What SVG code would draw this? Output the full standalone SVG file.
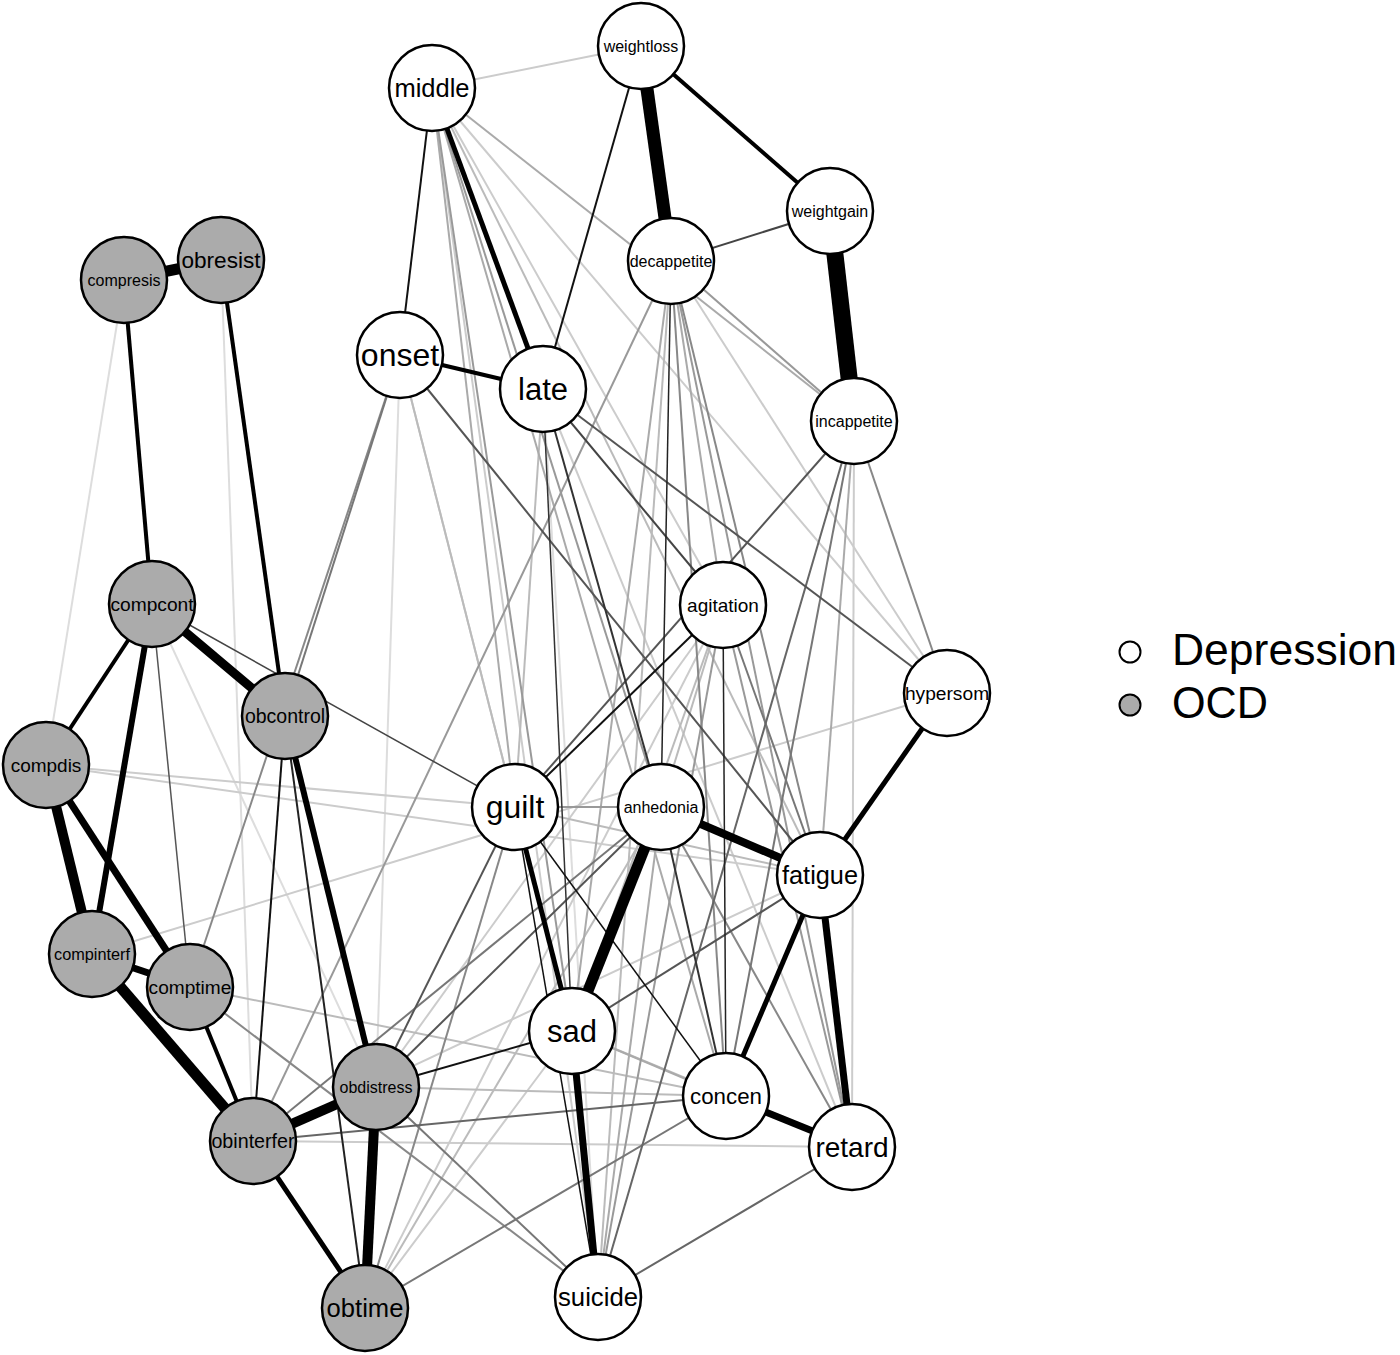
<svg xmlns="http://www.w3.org/2000/svg" width="1400" height="1355" viewBox="0 0 1400 1355">
<style>
#edges line{stroke-linecap:butt}
.c0{stroke:#000}.c1{stroke:#111}.c2{stroke:#222}.c3{stroke:#333}.c4{stroke:#444}.c5{stroke:#555}.c6{stroke:#666}.c7{stroke:#777}.c8{stroke:#888}.c9{stroke:#999}.ca{stroke:#aaa}.cb{stroke:#bbb}.cc{stroke:#ccc}.cd{stroke:#ddd}
.node circle{stroke:#000;stroke-width:2.5}
.dep circle{fill:#fff}.ocd circle{fill:#ababab}
text{font-family:"Liberation Sans",Arial,sans-serif;text-anchor:middle;fill:#000}
.leg{text-anchor:start}
</style>
<rect width="1400" height="1355" fill="#fff"/>
<g id="edges" stroke-width="2">
<line class="cd" x1="124" y1="280" x2="46" y2="765"/>
<line class="cd" x1="221" y1="260" x2="253" y2="1141"/>
<line class="cd" x1="400" y1="355" x2="376" y2="1087"/>
<line class="cd" x1="543" y1="389" x2="598" y2="1297"/>
<line class="cd" x1="152" y1="604" x2="376" y2="1087"/>
<line class="cc" x1="432" y1="88" x2="641" y2="46"/>
<line class="cc" x1="432" y1="88" x2="947" y2="693"/>
<line class="cc" x1="432" y1="88" x2="598" y2="1297"/>
<line class="cc" x1="432" y1="88" x2="723" y2="605"/>
<line class="cc" x1="400" y1="355" x2="572" y2="1031"/>
<line class="cc" x1="543" y1="389" x2="852" y2="1147"/>
<line class="cc" x1="671" y1="261" x2="947" y2="693"/>
<line class="cc" x1="854" y1="421" x2="852" y2="1147"/>
<line class="cc" x1="723" y1="605" x2="376" y2="1087"/>
<line class="cc" x1="947" y1="693" x2="92" y2="954"/>
<line class="cc" x1="46" y1="765" x2="515" y2="807"/>
<line class="cc" x1="46" y1="765" x2="820" y2="875"/>
<line class="cc" x1="253" y1="1141" x2="852" y2="1147"/>
<line class="cc" x1="365" y1="1308" x2="572" y2="1031"/>
<line class="cc" x1="365" y1="1308" x2="723" y2="605"/>
<line class="cc" x1="820" y1="875" x2="253" y2="1141"/>
<line class="cb" x1="432" y1="88" x2="820" y2="875"/>
<line class="cb" x1="400" y1="355" x2="515" y2="807"/>
<line class="cb" x1="543" y1="389" x2="515" y2="807"/>
<line class="cb" x1="671" y1="261" x2="598" y2="1297"/>
<line class="cb" x1="723" y1="605" x2="661" y2="807"/>
<line class="cb" x1="723" y1="605" x2="572" y2="1031"/>
<line class="cb" x1="515" y1="807" x2="820" y2="875"/>
<line class="cb" x1="190" y1="987" x2="726" y2="1096"/>
<line class="cb" x1="572" y1="1031" x2="852" y2="1147"/>
<line class="cb" x1="365" y1="1308" x2="661" y2="807"/>
<line class="cb" x1="376" y1="1087" x2="726" y2="1096"/>
<line class="ca" x1="432" y1="88" x2="854" y2="421"/>
<line class="ca" x1="432" y1="88" x2="515" y2="807"/>
<line class="ca" x1="432" y1="88" x2="726" y2="1096"/>
<line class="ca" x1="671" y1="261" x2="572" y2="1031"/>
<line class="ca" x1="671" y1="261" x2="723" y2="605"/>
<line class="ca" x1="854" y1="421" x2="820" y2="875"/>
<line class="ca" x1="572" y1="1031" x2="726" y2="1096"/>
<line class="ca" x1="661" y1="807" x2="598" y2="1297"/>
<line class="c9" x1="432" y1="88" x2="572" y2="1031"/>
<line class="c9" x1="432" y1="88" x2="661" y2="807"/>
<line class="c9" x1="515" y1="807" x2="661" y2="807"/>
<line class="c9" x1="671" y1="261" x2="253" y2="1141"/>
<line class="c9" x1="671" y1="261" x2="854" y2="421"/>
<line class="c9" x1="671" y1="261" x2="852" y2="1147"/>
<line class="c9" x1="723" y1="605" x2="852" y2="1147"/>
<line class="c9" x1="598" y1="1297" x2="723" y2="605"/>
<line class="c8" x1="400" y1="355" x2="190" y2="987"/>
<line class="c8" x1="190" y1="987" x2="598" y2="1297"/>
<line class="c8" x1="854" y1="421" x2="947" y2="693"/>
<line class="c8" x1="671" y1="261" x2="820" y2="875"/>
<line class="c8" x1="671" y1="261" x2="726" y2="1096"/>
<line class="c8" x1="661" y1="807" x2="852" y2="1147"/>
<line class="c8" x1="365" y1="1308" x2="515" y2="807"/>
<line class="c7" x1="854" y1="421" x2="726" y2="1096"/>
<line class="c7" x1="365" y1="1308" x2="726" y2="1096"/>
<line class="c7" x1="400" y1="355" x2="285" y2="716"/>
<line class="c7" x1="376" y1="1087" x2="598" y2="1297"/>
<line class="c7" x1="723" y1="605" x2="820" y2="875"/>
<line class="c7" x1="661" y1="807" x2="253" y2="1141"/>
<line class="c6" x1="852" y1="1147" x2="598" y2="1297"/>
<line class="c6" x1="253" y1="1141" x2="726" y2="1096"/>
<line class="c6" x1="854" y1="421" x2="598" y2="1297"/>
<line class="c5" x1="543" y1="389" x2="947" y2="693"/>
<line class="c5" x1="400" y1="355" x2="820" y2="875"/>
<line class="c5" x1="854" y1="421" x2="515" y2="807"/>
<line class="c4" x1="152" y1="604" x2="515" y2="807" stroke-width="1.5"/>
<line class="c5" x1="152" y1="604" x2="190" y2="987" stroke-width="1.5"/>
<line class="c5" x1="515" y1="807" x2="376" y2="1087"/>
<line class="c5" x1="661" y1="807" x2="376" y2="1087"/>
<line class="c5" x1="820" y1="875" x2="572" y2="1031"/>
<line class="c4" x1="830" y1="211" x2="671" y2="261"/>
<line class="c4" x1="543" y1="389" x2="723" y2="605"/>
<line class="c3" x1="543" y1="389" x2="572" y2="1031" stroke-width="1.5"/>
<line class="c3" x1="543" y1="389" x2="661" y2="807"/>
<line class="c3" x1="661" y1="807" x2="726" y2="1096"/>
<line class="c2" x1="671" y1="261" x2="661" y2="807" stroke-width="1.5"/>
<line class="c2" x1="723" y1="605" x2="726" y2="1096" stroke-width="1.5"/>
<line class="c2" x1="285" y1="716" x2="365" y2="1308"/>
<line class="c1" x1="432" y1="88" x2="400" y2="355"/>
<line class="c1" x1="641" y1="46" x2="543" y2="389"/>
<line class="c1" x1="285" y1="716" x2="253" y2="1141"/>
<line class="c1" x1="376" y1="1087" x2="572" y2="1031"/>
<line class="c1" x1="515" y1="807" x2="598" y2="1297" stroke-width="1.5"/>
<line class="c1" x1="515" y1="807" x2="726" y2="1096" stroke-width="1.5"/>
<line class="c1" x1="723" y1="605" x2="515" y2="807"/>
<line class="c0" x1="641" y1="46" x2="830" y2="211" stroke-width="4"/>
<line class="c0" x1="400" y1="355" x2="543" y2="389" stroke-width="4"/>
<line class="c0" x1="124" y1="280" x2="152" y2="604" stroke-width="4"/>
<line class="c0" x1="221" y1="260" x2="285" y2="716" stroke-width="4"/>
<line class="c0" x1="152" y1="604" x2="46" y2="765" stroke-width="4"/>
<line class="c0" x1="190" y1="987" x2="253" y2="1141" stroke-width="4"/>
<line class="c0" x1="432" y1="88" x2="543" y2="389" stroke-width="5"/>
<line class="c0" x1="515" y1="807" x2="572" y2="1031" stroke-width="5"/>
<line class="c0" x1="820" y1="875" x2="726" y2="1096" stroke-width="5"/>
<line class="c0" x1="947" y1="693" x2="820" y2="875" stroke-width="5"/>
<line class="c0" x1="253" y1="1141" x2="365" y2="1308" stroke-width="5"/>
<line class="c0" x1="285" y1="716" x2="376" y2="1087" stroke-width="6"/>
<line class="c0" x1="152" y1="604" x2="92" y2="954" stroke-width="6"/>
<line class="c0" x1="46" y1="765" x2="190" y2="987" stroke-width="7"/>
<line class="c0" x1="92" y1="954" x2="190" y2="987" stroke-width="7"/>
<line class="c0" x1="572" y1="1031" x2="598" y2="1297" stroke-width="7"/>
<line class="c0" x1="820" y1="875" x2="852" y2="1147" stroke-width="7"/>
<line class="c0" x1="726" y1="1096" x2="852" y2="1147" stroke-width="7"/>
<line class="c0" x1="661" y1="807" x2="820" y2="875" stroke-width="8"/>
<line class="c0" x1="152" y1="604" x2="285" y2="716" stroke-width="9"/>
<line class="c0" x1="661" y1="807" x2="572" y2="1031" stroke-width="11"/>
<line class="c0" x1="46" y1="765" x2="92" y2="954" stroke-width="10"/>
<line class="c0" x1="92" y1="954" x2="253" y2="1141" stroke-width="11"/>
<line class="c0" x1="253" y1="1141" x2="376" y2="1087" stroke-width="10"/>
<line class="c0" x1="376" y1="1087" x2="365" y2="1308" stroke-width="10"/>
<line class="c0" x1="124" y1="280" x2="221" y2="260" stroke-width="11"/>
<line class="c0" x1="641" y1="46" x2="671" y2="261" stroke-width="13"/>
<line class="c0" x1="830" y1="211" x2="854" y2="421" stroke-width="17"/>
</g>
<g id="n-weightloss" class="node dep"><circle cx="641" cy="46" r="43"/><text x="641" y="52" font-size="16">weightloss</text></g>
<g id="n-middle" class="node dep"><circle cx="432" cy="88" r="43"/><text x="432" y="97" font-size="25.5">middle</text></g>
<g id="n-weightgain" class="node dep"><circle cx="830" cy="211" r="43"/><text x="830" y="217" font-size="16">weightgain</text></g>
<g id="n-decappetite" class="node dep"><circle cx="671" cy="261" r="43"/><text x="671" y="267" font-size="16">decappetite</text></g>
<g id="n-compresis" class="node ocd"><circle cx="124" cy="280" r="43"/><text x="124" y="286" font-size="16">compresis</text></g>
<g id="n-obresist" class="node ocd"><circle cx="221" cy="260" r="43"/><text x="221" y="268" font-size="22.6">obresist</text></g>
<g id="n-onset" class="node dep"><circle cx="400" cy="355" r="43"/><text x="400" y="366" font-size="32">onset</text></g>
<g id="n-late" class="node dep"><circle cx="543" cy="389" r="43"/><text x="543" y="400" font-size="31">late</text></g>
<g id="n-incappetite" class="node dep"><circle cx="854" cy="421" r="43"/><text x="854" y="427" font-size="16">incappetite</text></g>
<g id="n-compcont" class="node ocd"><circle cx="152" cy="604" r="43"/><text x="152" y="611" font-size="19.2">compcont</text></g>
<g id="n-agitation" class="node dep"><circle cx="723" cy="605" r="43"/><text x="723" y="612" font-size="19">agitation</text></g>
<g id="n-hypersom" class="node dep"><circle cx="947" cy="693" r="43"/><text x="947" y="700" font-size="19.2">hypersom</text></g>
<g id="n-obcontrol" class="node ocd"><circle cx="285" cy="716" r="43"/><text x="285" y="723" font-size="19.5">obcontrol</text></g>
<g id="n-compdis" class="node ocd"><circle cx="46" cy="765" r="43"/><text x="46" y="772" font-size="19">compdis</text></g>
<g id="n-guilt" class="node dep"><circle cx="515" cy="807" r="43"/><text x="515" y="818" font-size="32">guilt</text></g>
<g id="n-anhedonia" class="node dep"><circle cx="661" cy="807" r="43"/><text x="661" y="813" font-size="16">anhedonia</text></g>
<g id="n-fatigue" class="node dep"><circle cx="820" cy="875" r="43"/><text x="820" y="884" font-size="25.3">fatigue</text></g>
<g id="n-compinterf" class="node ocd"><circle cx="92" cy="954" r="43"/><text x="92" y="960" font-size="16.3">compinterf</text></g>
<g id="n-comptime" class="node ocd"><circle cx="190" cy="987" r="43"/><text x="190" y="994" font-size="19.1">comptime</text></g>
<g id="n-sad" class="node dep"><circle cx="572" cy="1031" r="43"/><text x="572" y="1042" font-size="31">sad</text></g>
<g id="n-obdistress" class="node ocd"><circle cx="376" cy="1087" r="43"/><text x="376" y="1093" font-size="16">obdistress</text></g>
<g id="n-concen" class="node dep"><circle cx="726" cy="1096" r="43"/><text x="726" y="1104" font-size="22.3">concen</text></g>
<g id="n-obinterfer" class="node ocd"><circle cx="253" cy="1141" r="43"/><text x="253" y="1148" font-size="19.7">obinterfer</text></g>
<g id="n-retard" class="node dep"><circle cx="852" cy="1147" r="43"/><text x="852" y="1157" font-size="28">retard</text></g>
<g id="n-suicide" class="node dep"><circle cx="598" cy="1297" r="43"/><text x="598" y="1306" font-size="25.7">suicide</text></g>
<g id="n-obtime" class="node ocd"><circle cx="365" cy="1308" r="43"/><text x="365" y="1317" font-size="25.6">obtime</text></g>
<g id="legend">
<circle cx="1130" cy="652" r="10.5" fill="#fff" stroke="#000" stroke-width="2"/>
<circle cx="1130" cy="705" r="10.5" fill="#ababab" stroke="#000" stroke-width="2"/>
<text class="leg" x="1172" y="665" font-size="44" textLength="225" lengthAdjust="spacingAndGlyphs">Depression</text>
<text class="leg" x="1172" y="718" font-size="44" textLength="96" lengthAdjust="spacingAndGlyphs">OCD</text>
</g>
</svg>
